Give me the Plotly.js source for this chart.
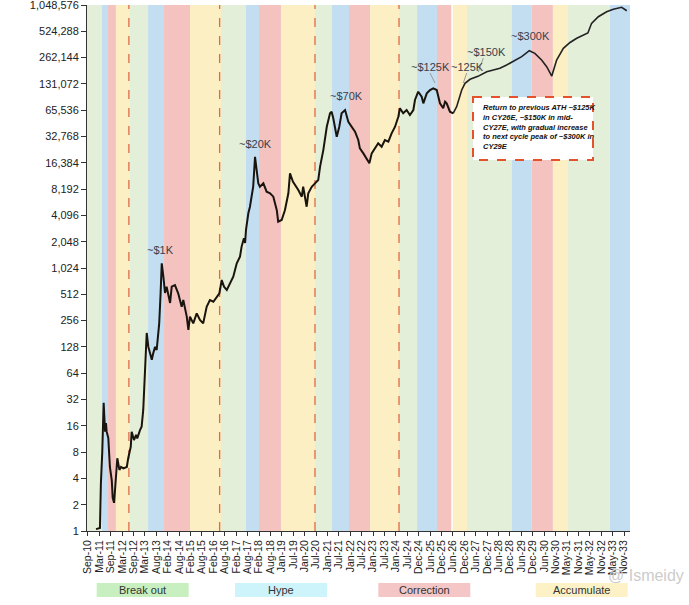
<!DOCTYPE html>
<html>
<head>
<meta charset="utf-8">
<script src="https://cdn.plot.ly/plotly-3.0.1.min.js"></script>
<style>
  html, body { margin: 0; padding: 0; background: #fff; }
  #plot { width: 689px; height: 605px; }
</style>
</head>
<body>
<div id="plot"></div>
<script>
// x axis labels, one every ~180 days starting mid Sep 2010
const tickLabels = ["Sep-10", "Mar-11", "Sep-11", "Mar-12", "Sep-12", "Mar-13", "Aug-13", "Feb-14",
    "Aug-14", "Feb-15", "Aug-15", "Feb-16", "Aug-16", "Feb-17", "Aug-17", "Feb-18", "Aug-18", "Jan-19",
    "Jul-19", "Jan-20", "Jul-20", "Jan-21", "Jul-21", "Jan-22", "Jul-22", "Jan-23", "Jul-23", "Jan-24",
    "Jul-24", "Dec-24", "Jun-25", "Dec-25", "Jun-26", "Dec-26", "Jun-27", "Dec-27", "Jun-28", "Dec-28",
    "Jun-29", "Dec-29", "Jun-30", "Nov-30", "May-31", "Nov-31", "May-32", "Nov-32", "May-33", "Nov-33"];

const priceTicks = [1, 2, 4, 8, 16, 32, 64, 128, 256, 512, 1024, 2048, 4096, 8192, 16384, 32768,
    65536, 131072, 262144, 524288, 1048576];
const priceTickLabels = ["1", "2", "4", "8", "16", "32", "64", "128", "256", "512", "1,024", "2,048",
    "4,096", "8,192", "16,384", "32,768", "65,536", "131,072", "262,144", "524,288", "1,048,576"];

// cycle phase bands (decimal years)
const bandEdges = [2010.66, 2011.31, 2011.57, 2011.91, 2012.52, 2013.30, 2013.99, 2015.11, 2016.45,
    2017.53, 2018.09, 2019.04, 2020.51, 2021.24, 2021.98, 2022.89, 2024.14, 2024.92, 2025.78, 2026.43,
    2027.08, 2029.02, 2029.88, 2030.79, 2031.44, 2033.25, 2034.12];
const bandPhases = ["Break out", "Hype", "Correction", "Accumulate"];

// halving markers and end of actual data
const halvingYears = [2012.47, 2016.39, 2020.51, 2024.14];
const lastActualYear = 2026.43;

// BTC price history
const histYears = [2011.05, 2011.22, 2011.26, 2011.32, 2011.38, 2011.44, 2011.48, 2011.51, 2011.58,
    2011.65, 2011.73, 2011.77, 2011.83, 2011.87, 2011.97, 2012.06, 2012.13, 2012.23, 2012.38, 2012.44,
    2012.55, 2012.59, 2012.69, 2012.78, 2012.83, 2012.95, 2013.02, 2013.09, 2013.17, 2013.24, 2013.31,
    2013.38, 2013.46, 2013.52, 2013.60, 2013.67, 2013.78, 2013.84, 2013.89, 2013.96, 2014.03, 2014.10,
    2014.25, 2014.32, 2014.46, 2014.60, 2014.75, 2014.82, 2014.97, 2015.04, 2015.11, 2015.25, 2015.40,
    2015.54, 2015.68, 2015.83, 2015.97, 2016.12, 2016.26, 2016.38, 2016.48, 2016.58, 2016.70, 2016.84,
    2016.98, 2017.13, 2017.27, 2017.34, 2017.44, 2017.49, 2017.53, 2017.63, 2017.70, 2017.84, 2017.92,
    2017.99, 2018.06, 2018.13, 2018.28, 2018.42, 2018.57, 2018.71, 2018.86, 2018.92, 2019.07, 2019.21,
    2019.36, 2019.43, 2019.56, 2019.79, 2019.94, 2020.00, 2020.15, 2020.22, 2020.37, 2020.51, 2020.65,
    2020.73, 2020.87, 2021.02, 2021.16, 2021.23, 2021.30, 2021.45, 2021.56, 2021.66, 2021.81, 2021.95,
    2022.10, 2022.24, 2022.38, 2022.45, 2022.60, 2022.74, 2022.86, 2022.96, 2023.10, 2023.24, 2023.39,
    2023.53, 2023.68, 2023.82, 2023.97, 2024.11, 2024.18, 2024.32, 2024.47, 2024.61, 2024.76, 2024.83,
    2024.97, 2025.12, 2025.19, 2025.34, 2025.48, 2025.62, 2025.77, 2025.84, 2025.91, 2026.05, 2026.13,
    2026.20, 2026.34, 2026.48];
const histPrices = [1.05, 1.08, 3.5, 8.1, 29.4, 13.7, 17.2, 13.7, 11.6,
    5.4, 3.8, 2.4, 2.1, 3.2, 6.8, 5.0, 5.4, 5.2, 5.4, 6.8,
    9.2, 13.7, 11.0, 12.6, 11.5, 14.3, 15.6, 24.3, 60, 185, 128,
    109, 91, 108, 128, 118, 238, 526, 1160, 814, 530, 626,
    407, 626, 654, 526, 369, 440, 284, 200, 284, 238, 310,
    260, 238, 369, 440, 421, 481, 526, 746, 626, 573, 684,
    814, 1160, 1380, 1800, 2240, 1980, 2790, 4330, 5150, 8720, 19200,
    13550, 9540, 8720, 9540, 7650, 7330, 6710, 4700, 3470, 3630, 4700,
    7330, 12400, 9950, 8000, 6710, 8720, 5150, 7330, 8720, 9540, 10400,
    14800, 22900, 42400, 60400, 63000, 52900, 32600, 42400, 60400, 65900, 48400,
    42400, 37200, 29900, 24000, 21000, 18450, 16200, 21000, 24000, 27400, 25000,
    29900, 28600, 35600, 42400, 55200, 68900, 60400, 65900, 57700, 65900, 85800,
    106700, 93500, 78600, 102300, 111600, 116700, 111600, 93500, 78600, 68900, 82000,
    78600, 63000, 60400];

// projected path
const fcYears = [2026.48, 2026.63, 2026.85, 2026.99, 2027.21, 2027.55, 2027.93, 2028.50, 2028.79,
    2028.93, 2029.15, 2029.44, 2029.77, 2030.01, 2030.30, 2030.52, 2030.74, 2030.95, 2031.24, 2031.53,
    2031.82, 2032.17, 2032.30, 2032.46, 2032.75, 2033.11, 2033.40, 2033.76, 2033.98];
const fcPrices = [60400, 71900, 111600, 133200, 148000, 160000, 180800, 197700, 215700,
    225500, 246000, 268600, 314300, 293500, 246000, 206200, 161400, 246000, 335000, 390300,
    436000, 475400, 501000, 647000, 770000, 878000, 936000, 986000, 902000];

const peakLabels = ["~$1K", "~$20K", "~$70K", "~$125K", "~125K", "~$150K", "~$300K"];
const noteLines = ["Return to previous ATH ~$125K", "in CY26E, ~$150K in mid-",
    "CY27E, with gradual increase", "to next cycle peak of ~$300K in", "CY29E"];

/**
 * Plot area pixel geometry of the reference, used for paper positions.
 */
const PLOT_L = 87, PLOT_R = 630, PLOT_T = 5, PLOT_B = 531;
const px = x => (x - PLOT_L) / (PLOT_R - PLOT_L);
const py = y => (PLOT_B - y) / (PLOT_B - PLOT_T);

const bandFill = {
    "Break out": "#e3efd8",
    "Hype": "#c3def1",
    "Correction": "#f4c3c0",
    "Accumulate": "#fcefc4"
};
const legendFill = {
    "Break out": "#c8efbf",
    "Hype": "#cdf4fb",
    "Correction": "#f4c6c6",
    "Accumulate": "#fdf2c5"
};

const shapes = [];

// phase bands
for (let i = 0; i < bandEdges.length - 1; i++) {
    shapes.push({
        type: "rect", layer: "below", xref: "x", yref: "paper",
        x0: bandEdges[i], x1: bandEdges[i + 1], y0: 0, y1: 1,
        fillcolor: bandFill[bandPhases[i % 4]], line: { width: 0 }
    });
}

// halving dashed lines
halvingYears.forEach(h => shapes.push({
    type: "line", layer: "below", xref: "x", yref: "paper", x0: h, x1: h, y0: 0, y1: 1,
    line: { color: "#e06a45", width: 1.3, dash: "dash" }
}));

// white divider where actual data ends
shapes.push({
    type: "line", layer: "below", xref: "x", yref: "paper", x0: lastActualYear, x1: lastActualYear,
    y0: 0, y1: 1, line: { color: "#ffffff", width: 1.5 }
});

// leader lines for peak labels
[[430, 73, 435, 83], [466.7, 73, 463.3, 83], [483.3, 58, 478.3, 72]].forEach(l => shapes.push({
    type: "line", xref: "paper", yref: "paper",
    x0: px(l[0]), y0: py(l[1]), x1: px(l[2]), y1: py(l[3]),
    line: { color: "#9a9a9a", width: 1 }
}));

// note box
shapes.push({
    type: "rect", xref: "paper", yref: "paper",
    x0: px(473), x1: px(593), y0: py(97), y1: py(160),
    fillcolor: "#ffffff", line: { color: "#e4522c", width: 2, dash: "dash" }
});

// legend boxes under the axis
const legendX = [96.7, 235, 378.3, 535.7];
bandPhases.forEach((p, i) => shapes.push({
    type: "rect", xref: "paper", yref: "paper",
    x0: px(legendX[i]), x1: px(legendX[i] + 92), y0: py(583), y1: py(597),
    fillcolor: legendFill[p], line: { width: 0 }
}));

const annotations = [];

const labelPos = [[160.5, 250], [255, 144], [346, 96], [430, 67], [467, 67], [486, 52], [530, 36]];
peakLabels.forEach((t, i) => annotations.push({
    text: t, xref: "paper", yref: "paper", x: px(labelPos[i][0]), y: py(labelPos[i][1]),
    xanchor: "center", yanchor: "middle",
    showarrow: false, font: { size: 11, color: "#38404a" }
}));

annotations.push({
    text: noteLines.map(s => `<b><i>${s}</i></b>`).join("<br>"),
    xref: "paper", yref: "paper", x: px(481), y: py(101), xanchor: "left", yanchor: "top",
    align: "left", showarrow: false, font: { size: 7.5, color: "#111111" }
});

bandPhases.forEach((p, i) => annotations.push({
    text: p, xref: "paper", yref: "paper", x: px(legendX[i] + 46), y: py(590),
    xanchor: "center", yanchor: "middle",
    showarrow: false, font: { size: 11, color: "#333333" }
}));

// watermark
annotations.push({
    text: "@ Ismeidy", xref: "paper", yref: "paper", x: px(646), y: py(575),
    xanchor: "center", yanchor: "middle", borderpad: 0,
    showarrow: false, font: { size: 16, color: "#cccccc" }
});

const data = [
    {
        x: histYears, y: histPrices, type: "scatter", mode: "lines",
        line: { color: "#1a140e", width: 2 }, hoverinfo: "skip"
    },
    {
        x: fcYears, y: fcPrices, type: "scatter", mode: "lines",
        line: { color: "#222222", width: 1.6 }, hoverinfo: "skip"
    }
];

const layout = {
    width: 689, height: 605,
    margin: { l: PLOT_L, r: 689 - PLOT_R, t: PLOT_T, b: 605 - PLOT_B },
    paper_bgcolor: "#ffffff", plot_bgcolor: "#ffffff",
    font: { family: "Liberation Sans, Arial, sans-serif", color: "#222222" },
    showlegend: false,
    xaxis: {
        type: "linear", range: [2010.66, 2034.12],
        tickvals: tickLabels.map((_, i) => 2010.70 + i * 180 / 365.25),
        ticktext: tickLabels, tickangle: -90,
        ticks: "outside", ticklen: 4, tickcolor: "#333333",
        showline: true, linecolor: "#333333", linewidth: 1,
        showgrid: false, zeroline: false,
        tickfont: { size: 10.5, color: "#222222" }
    },
    yaxis: {
        type: "log", range: [0, 6.0207],
        tickvals: priceTicks, ticktext: priceTickLabels,
        ticks: "outside", ticklen: 5, tickcolor: "#333333",
        showline: true, linecolor: "#333333", linewidth: 1,
        showgrid: false, zeroline: false, ticklabeloverflow: "allow",
        tickfont: { size: 11, color: "#222222" }
    },
    shapes: shapes,
    annotations: annotations
};

Plotly.newPlot("plot", data, layout, { displayModeBar: false, staticPlot: true });
</script>
</body>
</html>
